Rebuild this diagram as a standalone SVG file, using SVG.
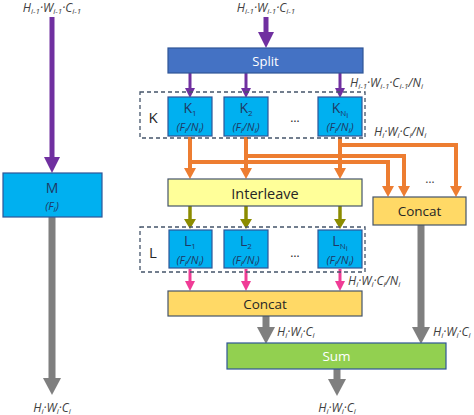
<svg xmlns="http://www.w3.org/2000/svg" width="474" height="415" viewBox="0 0 474 415">
<style>
text{font-family:"Open Sans","Noto Sans","Liberation Sans",sans-serif;}
.lbl{font-size:12px;font-style:italic;fill:#404040;}
.s{font-size:8px;}
.blue{fill:#00b0f0;stroke:#2f5597;stroke-width:1.2;}
.ktxt{font-size:14px;fill:#1f3864;text-anchor:middle;}
.ftxt{font-size:11px;font-style:italic;fill:#1f3864;text-anchor:middle;}
.dash{fill:none;stroke:#44546a;stroke-width:1.3;stroke-dasharray:4,3;}
.name{text-anchor:middle;}
.pu{stroke:#7030a0;fill:none;}
.or{stroke:#ed7d31;stroke-width:4;fill:none;}
.ol{stroke:#8c8c00;stroke-width:3.5;fill:none;}
.pk{stroke:#f03c96;stroke-width:3;fill:none;}
.gr{stroke:#7f7f7f;stroke-width:7;fill:none;}
</style>
<defs>
<marker id="hPu" markerUnits="userSpaceOnUse" viewBox="0 -8 16 16" markerWidth="16" markerHeight="16" refX="0" refY="0" orient="auto"><path d="M0,-8L16,0L0,8z" fill="#7030a0"/></marker>
<marker id="hPuS" markerUnits="userSpaceOnUse" viewBox="0 -5 10 10" markerWidth="10" markerHeight="10" refX="0" refY="0" orient="auto"><path d="M0,-5L10,0L0,5z" fill="#7030a0"/></marker>
<marker id="hOr" markerUnits="userSpaceOnUse" viewBox="0 -6 11 12" markerWidth="11" markerHeight="12" refX="0" refY="0" orient="auto"><path d="M0,-6L11,0L0,6z" fill="#ed7d31"/></marker>
<marker id="hOl" markerUnits="userSpaceOnUse" viewBox="0 -6 10 12" markerWidth="10" markerHeight="12" refX="0" refY="0" orient="auto"><path d="M0,-6L10,0L0,6z" fill="#8c8c00"/></marker>
<marker id="hPk" markerUnits="userSpaceOnUse" viewBox="0 -5 10 10" markerWidth="10" markerHeight="10" refX="0" refY="0" orient="auto"><path d="M0,-5L10,0L0,5z" fill="#f03c96"/></marker>
<marker id="hGr" markerUnits="userSpaceOnUse" viewBox="0 -9 17 18" markerWidth="17" markerHeight="18" refX="0" refY="0" orient="auto"><path d="M0,-9L17,0L0,9z" fill="#7f7f7f"/></marker>
</defs>

<g id="connectors">
<path class="pu" stroke-width="5" d="M52,17V157" marker-end="url(#hPu)"/>
<path class="pu" stroke-width="5" d="M266,17V32" marker-end="url(#hPu)"/>
<path class="pu" stroke-width="3" d="M190,73V88" marker-end="url(#hPuS)"/>
<path class="pu" stroke-width="3" d="M246,73V88" marker-end="url(#hPuS)"/>
<path class="pu" stroke-width="3" d="M340,73V88" marker-end="url(#hPuS)"/>
<path class="or" d="M190,137V168" marker-end="url(#hOr)"/>
<path class="or" d="M246,137V168" marker-end="url(#hOr)"/>
<path class="or" d="M340,137V168" marker-end="url(#hOr)"/>
<path class="or" d="M340,145H456V186" marker-end="url(#hOr)"/>
<path class="or" d="M246,156H404V186" marker-end="url(#hOr)"/>
<path class="or" d="M190,162H388V186" marker-end="url(#hOr)"/>
<path class="ol" d="M190,206V219" marker-end="url(#hOl)"/>
<path class="ol" d="M246,206V219" marker-end="url(#hOl)"/>
<path class="ol" d="M340,206V219" marker-end="url(#hOl)"/>
<path class="pk" d="M190,269V281" marker-end="url(#hPk)"/>
<path class="pk" d="M246,269V281" marker-end="url(#hPk)"/>
<path class="pk" d="M340,269V281" marker-end="url(#hPk)"/>
<path class="gr" d="M266,316V327" marker-end="url(#hGr)"/>
<path class="gr" d="M421,225V327" marker-end="url(#hGr)"/>
<path class="gr" d="M337,369V379" marker-end="url(#hGr)"/>
<path class="gr" d="M52,217V378" marker-end="url(#hGr)"/>
</g>

<g id="labels">
<text class="lbl" x="52" y="12" text-anchor="middle">H<tspan class="s" dy="2">i-1</tspan><tspan dy="-2">·W</tspan><tspan class="s" dy="2">i-1</tspan><tspan dy="-2">·C</tspan><tspan class="s" dy="2">i-1</tspan></text>
<text class="lbl" x="266" y="12" text-anchor="middle">H<tspan class="s" dy="2">i-1</tspan><tspan dy="-2">·W</tspan><tspan class="s" dy="2">i-1</tspan><tspan dy="-2">·C</tspan><tspan class="s" dy="2">i-1</tspan></text>
<text class="lbl" x="350" y="87">H<tspan class="s" dy="2">i-1</tspan><tspan dy="-2">·W</tspan><tspan class="s" dy="2">i-1</tspan><tspan dy="-2">·C</tspan><tspan class="s" dy="2">i-1</tspan><tspan dy="-2">/N</tspan><tspan class="s" dy="2">i</tspan></text>
<text class="lbl" x="374" y="136">H<tspan class="s" dy="2">i</tspan><tspan dy="-2">·W</tspan><tspan class="s" dy="2">i</tspan><tspan dy="-2">·C</tspan><tspan class="s" dy="2">i</tspan><tspan dy="-2">/N</tspan><tspan class="s" dy="2">i</tspan></text>
<text class="lbl" x="348" y="285">H<tspan class="s" dy="2">i</tspan><tspan dy="-2">·W</tspan><tspan class="s" dy="2">i</tspan><tspan dy="-2">·C</tspan><tspan class="s" dy="2">i</tspan><tspan dy="-2">/N</tspan><tspan class="s" dy="2">i</tspan></text>
<text class="lbl" x="277" y="336">H<tspan class="s" dy="2">i</tspan><tspan dy="-2">·W</tspan><tspan class="s" dy="2">i</tspan><tspan dy="-2">·C</tspan><tspan class="s" dy="2">i</tspan></text>
<text class="lbl" x="433" y="336">H<tspan class="s" dy="2">i</tspan><tspan dy="-2">·W</tspan><tspan class="s" dy="2">i</tspan><tspan dy="-2">·C</tspan><tspan class="s" dy="2">i</tspan></text>
<text class="lbl" x="337" y="412" text-anchor="middle">H<tspan class="s" dy="2">i</tspan><tspan dy="-2">·W</tspan><tspan class="s" dy="2">i</tspan><tspan dy="-2">·C</tspan><tspan class="s" dy="2">i</tspan></text>
<text class="lbl" x="52" y="412" text-anchor="middle">H<tspan class="s" dy="2">i</tspan><tspan dy="-2">·W</tspan><tspan class="s" dy="2">i</tspan><tspan dy="-2">·C</tspan><tspan class="s" dy="2">i</tspan></text>
<text x="430" y="183" font-size="12" fill="#404040" text-anchor="middle">…</text>
</g>

<g id="M">
<rect class="blue" x="3" y="173" width="99" height="44"/>
<text class="ktxt" x="52" y="193" font-size="15">M</text>
<text class="ftxt" x="52" y="210">(F<tspan class="s" dy="2">i</tspan><tspan dy="-2">)</tspan></text>
</g>

<g id="split">
<rect x="168" y="48" width="195" height="25" fill="#4472c4" stroke="#2f5597" stroke-width="1.2"/>
<text class="name" x="265.5" y="65.5" font-size="13" fill="#ffffff">Split</text>
</g>

<g id="Kgroup">
<rect class="dash" x="140" y="92" width="225" height="46"/>
<text x="153" y="123" font-size="15" fill="#262626" text-anchor="middle">K</text>
<text x="295" y="122" font-size="12" fill="#262626" text-anchor="middle">…</text>
</g>
<g id="K1">
<rect class="blue" x="168" y="97" width="44" height="39"/>
<text class="ktxt" x="190" y="113">K<tspan class="s" font-size="10" dy="3">1</tspan></text>
<text class="ftxt" x="190" y="131">(F<tspan class="s" dy="2">i</tspan><tspan dy="-2">/N</tspan><tspan class="s" dy="2">i</tspan><tspan dy="-2">)</tspan></text>
</g>
<g id="K2">
<rect class="blue" x="224" y="97" width="44" height="39"/>
<text class="ktxt" x="246" y="113">K<tspan class="s" font-size="10" dy="3">2</tspan></text>
<text class="ftxt" x="246" y="131">(F<tspan class="s" dy="2">i</tspan><tspan dy="-2">/N</tspan><tspan class="s" dy="2">i</tspan><tspan dy="-2">)</tspan></text>
</g>
<g id="KN">
<rect class="blue" x="318" y="97" width="44" height="39"/>
<text class="ktxt" x="340" y="113">K<tspan class="s" font-size="10" dy="3">N</tspan><tspan class="s" font-size="6.5" dy="1.5">i</tspan></text>
<text class="ftxt" x="340" y="131">(F<tspan class="s" dy="2">i</tspan><tspan dy="-2">/N</tspan><tspan class="s" dy="2">i</tspan><tspan dy="-2">)</tspan></text>
</g>

<g id="interleave">
<rect x="168" y="179" width="194" height="27" fill="#ffff99" stroke="#44546a" stroke-width="1.2"/>
<text class="name" x="265" y="198.5" font-size="14.5" fill="#262626">Interleave</text>
</g>

<g id="concat2">
<rect x="373" y="197" width="93" height="28" fill="#ffd966" stroke="#44546a" stroke-width="1.2"/>
<text class="name" x="419.5" y="216" font-size="13.5" fill="#262626">Concat</text>
</g>

<g id="Lgroup">
<rect class="dash" x="140" y="227" width="225" height="45"/>
<text x="153" y="258" font-size="15" fill="#262626" text-anchor="middle">L</text>
<text x="295" y="257" font-size="12" fill="#262626" text-anchor="middle">…</text>
</g>
<g id="L1">
<rect class="blue" x="169" y="230" width="43" height="38"/>
<text class="ktxt" x="190" y="246">L<tspan class="s" font-size="10" dy="3">1</tspan></text>
<text class="ftxt" x="190" y="264">(F<tspan class="s" dy="2">i</tspan><tspan dy="-2">/N</tspan><tspan class="s" dy="2">i</tspan><tspan dy="-2">)</tspan></text>
</g>
<g id="L2">
<rect class="blue" x="224" y="230" width="44" height="38"/>
<text class="ktxt" x="246" y="246">L<tspan class="s" font-size="10" dy="3">2</tspan></text>
<text class="ftxt" x="246" y="264">(F<tspan class="s" dy="2">i</tspan><tspan dy="-2">/N</tspan><tspan class="s" dy="2">i</tspan><tspan dy="-2">)</tspan></text>
</g>
<g id="LN">
<rect class="blue" x="318" y="230" width="44" height="38"/>
<text class="ktxt" x="340" y="246">L<tspan class="s" font-size="10" dy="3">N</tspan><tspan class="s" font-size="6.5" dy="1.5">i</tspan></text>
<text class="ftxt" x="340" y="264">(F<tspan class="s" dy="2">i</tspan><tspan dy="-2">/N</tspan><tspan class="s" dy="2">i</tspan><tspan dy="-2">)</tspan></text>
</g>

<g id="concat1">
<rect x="168" y="291" width="194" height="25" fill="#ffd966" stroke="#44546a" stroke-width="1.2"/>
<text class="name" x="265" y="309" font-size="13.5" fill="#262626">Concat</text>
</g>

<g id="sum">
<rect x="227" y="343" width="219" height="26" fill="#92d050" stroke="#2f5597" stroke-width="1.2"/>
<text class="name" x="336.5" y="361" font-size="13.5" fill="#ffffff">Sum</text>
</g>
</svg>
